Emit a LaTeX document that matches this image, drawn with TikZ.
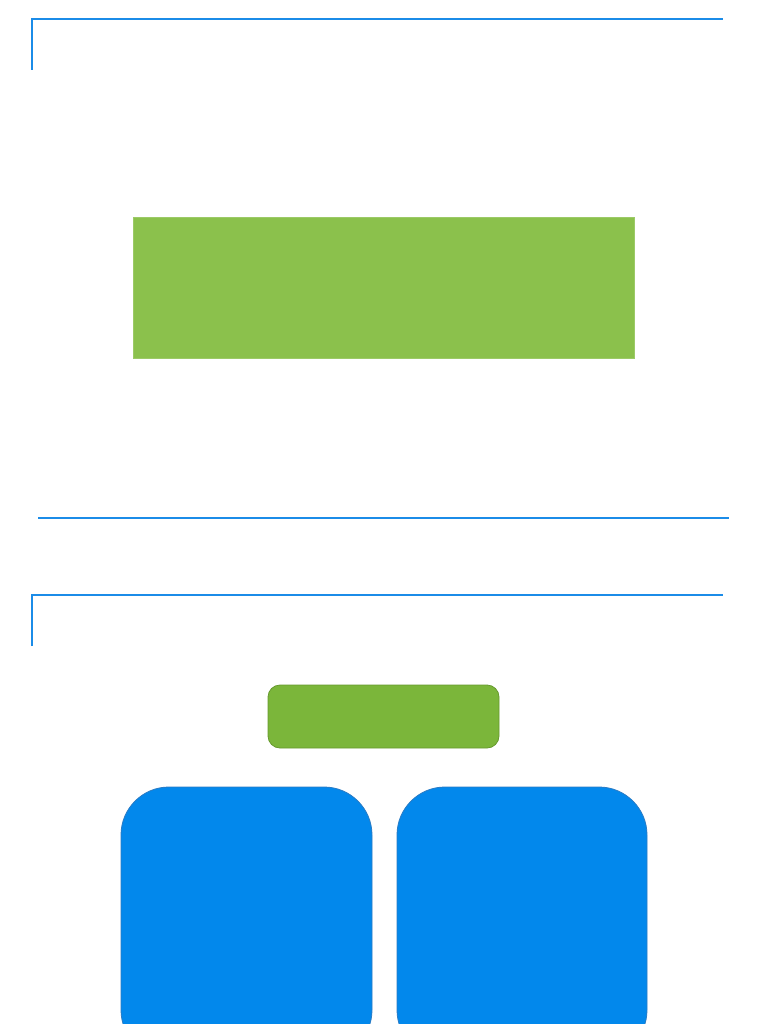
\documentclass[tikz,border=0pt]{standalone}
\usepackage{tikz}
\definecolor{rulerblue}{HTML}{1B8CE8}
\definecolor{panelgreen}{HTML}{8BC14C}
\definecolor{tabgreen}{HTML}{7BB63A}
\definecolor{tabedge}{HTML}{66992E}
\definecolor{cardblue}{HTML}{0288EC}
\definecolor{cardedge}{HTML}{2A7BC4}

\begin{document}
\begin{tikzpicture}[x=1pt,y=-1pt]
		%%%%% START %%%%%
		
		\useasboundingbox (0, 0) rectangle (768, 1024);
		\clip (0, 0) rectangle (768, 1024);
		
		\draw[line width=2pt, color=rulerblue] (32, 70) -- (32, 19) -- (723, 19);
		
		\draw[line width=0.6pt, color=panelgreen!85!white, fill=panelgreen] (133, 217) rectangle (634, 358);
		
		\draw[line width=2pt, color=rulerblue] (38, 518) -- (729, 518);
		
		\draw[line width=2pt, color=rulerblue] (32, 646) -- (32, 595) -- (723, 595);
		
		\draw[line width=0.8pt, color=tabedge, fill=tabgreen, rounded corners=12pt] (268, 685) rectangle (499, 748);
		
		\draw[line width=0.8pt, color=cardedge, fill=cardblue, rounded corners=48pt] (121, 787) rectangle (372, 1058);
		\draw[line width=0.8pt, color=cardedge, fill=cardblue, rounded corners=48pt] (397, 787) rectangle (647, 1058);
		
		%%%%% END %%%%%
	\end{tikzpicture}
\end{document}
